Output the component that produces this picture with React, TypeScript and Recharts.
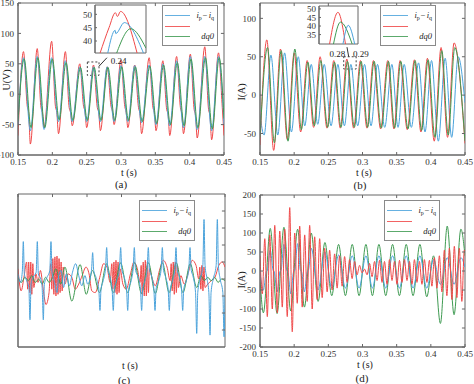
import React from 'react';
import { LineChart, Line, XAxis, YAxis, Legend, ReferenceArea, ReferenceLine, ReferenceDot, CartesianGrid } from 'recharts';

type Pt = [number, number];

const SERIF = "'Liberation Serif','Times New Roman',Times,serif";
const BLUE = '#4ba3dc';
const RED = '#f04848';
const GREEN = '#3f9b52';
const AXIS = '#666';

const X_DOMAIN: [number, number] = [0.15, 0.45];
const X_TICKS = [0.15, 0.2, 0.25, 0.3, 0.35, 0.4, 0.45];
const A_Y_TICKS = [-100, -50, 0, 50, 100, 150];
const B_Y_TICKS = [-50, 0, 50, 100];
const C_Y_TICKS = [-3, -2, -1, 0, 1, 2, 3, 4];
const D_Y_TICKS = [-200, -150, -100, -50, 0, 50, 100, 150, 200];
const LEGEND_COLORS = [BLUE, RED, GREEN];

// ---------- panel (a) U(V)
const aRed: Pt[] = [
  [0.150, -68], [0.158, 70], [0.1635, -20], [0.1655, -30], [0.168, -82], [0.178, 75], [0.1835, -22], [0.1855, -30],
  [0.188, -55], [0.199, 87], [0.2045, -20], [0.2065, -30], [0.209, -65], [0.219, 70], [0.2245, -22], [0.2265, -30],
  [0.229, -52], [0.240, 50], [0.2455, -20], [0.2475, -28], [0.250, -55], [0.260, 48], [0.2655, -22], [0.2675, -30],
  [0.270, -60], [0.280, 45], [0.2855, -20], [0.2875, -28], [0.290, -50], [0.300, 56], [0.3055, -20], [0.3075, -30],
  [0.310, -55], [0.320, 48], [0.3255, -22], [0.3275, -32], [0.330, -65], [0.341, 60], [0.3465, -22], [0.3485, -30],
  [0.351, -60], [0.361, 55], [0.3665, -25], [0.3685, -33], [0.371, -68], [0.381, 62], [0.3865, -22], [0.3885, -32],
  [0.391, -65], [0.401, 66], [0.4065, -25], [0.4085, -35], [0.411, -72], [0.422, 78], [0.4275, -25], [0.4295, -35],
  [0.432, -75], [0.442, 68], [0.4475, -22], [0.450, -68],
];
const aBlue: Pt[] = [
  [0.150, -50], [0.158, 60], [0.168, -60], [0.178, 62], [0.188, -58], [0.199, 60], [0.209, -45], [0.219, 55],
  [0.229, -45], [0.240, 45], [0.250, -45], [0.260, 45], [0.270, -45], [0.280, 45], [0.290, -45], [0.300, 47],
  [0.310, -45], [0.320, 47], [0.330, -47], [0.341, 48], [0.351, -50], [0.361, 50], [0.371, -52], [0.381, 55],
  [0.391, -55], [0.401, 62], [0.411, -58], [0.422, 62], [0.432, -60], [0.442, 62], [0.450, -50],
];
const aGreen: Pt[] = [
  [0.150, -45], [0.159, 58], [0.169, -55], [0.179, 60], [0.189, -55], [0.200, 58], [0.210, -42], [0.220, 52],
  [0.230, -43], [0.241, 44], [0.251, -43], [0.261, 44], [0.271, -43], [0.281, 44], [0.291, -43], [0.301, 45],
  [0.311, -43], [0.321, 45], [0.331, -45], [0.342, 46], [0.352, -48], [0.362, 48], [0.372, -50], [0.382, 52],
  [0.392, -52], [0.402, 58], [0.412, -55], [0.423, 60], [0.433, -57], [0.443, 60], [0.450, -40],
];
// inset (a)
const iaRed: Pt[] = [[0.2384, 35.5], [0.2391, 45], [0.2396, 50.6], [0.23976, 49.2], [0.2400, 51.1], [0.2413, 35.5]];
const iaBlue: Pt[] = [[0.2390, 35.5], [0.23958, 44], [0.23963, 42.8], [0.2403, 46.9], [0.2418, 35.5]];
const iaGreen: Pt[] = [[0.2397, 35.5], [0.2408, 44.6], [0.2420, 37.3]];

// ---------- panel (b) I(A)
const bRed: Pt[] = [
  [0.150, -65], [0.160, 72], [0.170, -72], [0.180, 60], [0.190, -58], [0.200, 55], [0.2095, -48], [0.219, 45],
  [0.2285, -42], [0.238, 50], [0.248, -43], [0.258, 45], [0.2675, -43], [0.277, 47], [0.287, -43], [0.297, 45],
  [0.3065, -43], [0.316, 45], [0.3265, -44], [0.337, 45], [0.346, -44], [0.355, 45], [0.3655, -45], [0.376, 46],
  [0.3855, -48], [0.395, 48], [0.405, -60], [0.415, 62], [0.4245, -55], [0.434, 68], [0.450, -63],
];
const bGreen: Pt[] = [
  [0.150, -55], [0.161, 62], [0.171, -62], [0.181, 58], [0.191, -60], [0.201, 60], [0.2105, -45], [0.220, 43],
  [0.2295, -40], [0.239, 45], [0.249, -42], [0.259, 43], [0.2685, -42], [0.278, 44], [0.288, -42], [0.298, 44],
  [0.3075, -42], [0.317, 44], [0.3275, -43], [0.338, 44], [0.347, -43], [0.356, 44], [0.3665, -44], [0.377, 45],
  [0.3865, -46], [0.396, 46], [0.406, -55], [0.416, 58], [0.4255, -52], [0.435, 62], [0.450, -60],
];
const bBlue: Pt[] = [
  [0.150, -25], [0.156, -52], [0.166, 52], [0.176, -52], [0.186, 55], [0.196, -48], [0.206, 50], [0.2155, -40],
  [0.225, 40], [0.2345, -38], [0.244, 40], [0.254, -40], [0.264, 40], [0.2735, -40], [0.283, 40], [0.293, -40],
  [0.303, 40], [0.3125, -40], [0.322, 40], [0.3325, -42], [0.343, 40], [0.352, -42], [0.361, 40], [0.3715, -42],
  [0.382, 42], [0.3915, -48], [0.401, 45], [0.411, -60], [0.421, 48], [0.4305, -55], [0.440, 50], [0.450, -10],
];
// inset (b)
const ibRed: Pt[] = [[0.2818, 29.5], [0.2848, 48], [0.2875, 29.5]];
const ibGreen: Pt[] = [[0.2832, 29.5], [0.2857, 42.3], [0.2899, 29.5]];
const ibBlue: Pt[] = [[0.2866, 29.5], [0.2885, 40.4], [0.2908, 29.5]];

// ---------- panel (c)
const cRed: Pt[] = [
  [0.150, 0.6], [0.1545, -0.7], [0.159, 0.2], [0.1625, 1.0], [0.164, -0.6], [0.1655, 1.0], [0.167, -0.8], [0.1685, 1.0],
  [0.170, -0.9], [0.1715, 0.9], [0.173, -0.5], [0.176, 0.3], [0.179, -0.2], [0.1825, 0.5], [0.1865, -0.6], [0.1905, -1.5],
  [0.195, -0.8], [0.1975, 0.9], [0.199, -0.6], [0.2005, 1.2], [0.202, -0.9], [0.2035, 1.3], [0.205, -1.0], [0.2065, 1.35],
  [0.208, -0.9], [0.2095, 1.2], [0.211, -0.8], [0.2125, 1.0], [0.214, -0.7], [0.2155, 0.7], [0.218, -0.3], [0.2225, 0.3],
  [0.228, 0.1], [0.233, -0.6], [0.238, -0.3], [0.243, 0.2], [0.2485, 0.7], [0.253, 0.3], [0.257, -0.7], [0.262, -0.8],
  [0.2685, 0.1], [0.274, 0.9], [0.279, 0.7], [0.2835, -0.2], [0.286, 0.9], [0.2875, -0.6], [0.289, 1.0], [0.2905, -0.8],
  [0.292, 1.1], [0.2935, -0.9], [0.295, 1.0], [0.2965, -0.8], [0.298, 0.6], [0.302, -0.3], [0.307, -0.6], [0.313, 0.3],
  [0.318, 1.0], [0.323, 0.6], [0.327, -0.2], [0.3285, 0.8], [0.330, -0.9], [0.3315, 1.0], [0.333, -1.0], [0.3345, 1.1],
  [0.336, -1.0], [0.3375, 1.0], [0.339, -0.8], [0.3405, 0.6], [0.344, 0.1], [0.349, -0.4], [0.355, 0.5], [0.3605, 1.1],
  [0.366, 0.7], [0.3705, -0.1], [0.372, 0.9], [0.3735, -0.7], [0.375, 1.0], [0.3765, -0.9], [0.378, 1.0], [0.3795, -0.8],
  [0.381, 0.8], [0.3825, -0.5], [0.386, 0.2], [0.391, -0.3], [0.397, 0.4], [0.4025, 1.1], [0.408, 0.8], [0.412, 0.0],
  [0.4135, 0.7], [0.415, -0.6], [0.4165, 0.8], [0.418, -0.7], [0.4195, 0.7], [0.421, -0.5], [0.425, -0.3], [0.430, -0.1],
  [0.4355, 0.1], [0.441, 0.8], [0.446, 1.0], [0.450, 0.7],
];
const cGreen: Pt[] = [
  [0.150, 0.1], [0.155, -0.2], [0.160, 0.1], [0.165, -0.1], [0.170, 0.2], [0.175, -0.2], [0.180, 0.0], [0.185, -0.3],
  [0.190, 0.1], [0.195, -0.2], [0.200, 0.1], [0.205, 0.6], [0.212, -0.3], [0.218, 0.7], [0.228, -1.3], [0.240, 0.85],
  [0.249, -0.9], [0.258, 0.5], [0.268, -0.8], [0.2785, 0.9], [0.288, -0.8], [0.2987, 0.95], [0.309, -0.8], [0.3189, 0.95],
  [0.329, -0.85], [0.3391, 0.95], [0.349, -0.85], [0.3593, 0.95], [0.369, -0.8], [0.3795, 0.95], [0.389, -0.8], [0.3997, 0.9],
  [0.409, -0.5], [0.415, 0.2], [0.420, -0.1], [0.425, 0.1], [0.430, -0.1], [0.435, 0.1], [0.440, -0.2], [0.445, 0.0],
  [0.450, -0.1],
];
const cBlue: Pt[] = [
  [0.150, 0.3], [0.1535, -0.2], [0.1562, 0.4], [0.1577, 2.2], [0.1592, 0.3], [0.1625, -0.1], [0.1657, -0.5], [0.1674, -2.4],
  [0.1689, -0.3], [0.172, 0.1], [0.1763, 0.4], [0.178, 2.2], [0.1795, 0.3], [0.183, 0.0], [0.185, -0.5], [0.1867, -2.4],
  [0.1882, -0.3], [0.192, 0.1], [0.1961, 0.5], [0.1978, 2.2], [0.1993, 0.4], [0.203, -0.2], [0.2065, -0.8], [0.209, 0.2],
  [0.2125, 0.5], [0.216, -0.5], [0.220, 0.3], [0.2245, -0.4], [0.229, 0.4], [0.2335, 0.9], [0.238, 0.2], [0.2425, -0.4],
  [0.247, 0.2], [0.251, -0.3],
  [0.2565, 0.5], [0.2582, 1.55], [0.2597, 0.5], [0.263, 0.1], [0.2671, -0.6], [0.2688, -1.85], [0.2703, -0.6], [0.2735, -0.1],
  [0.2768, 0.6], [0.2785, 1.85], [0.2800, 0.6], [0.2835, 0.1], [0.2864, -0.6], [0.2881, -1.85], [0.2896, -0.6], [0.2930, -0.1],
  [0.2971, 0.6], [0.2988, 1.85], [0.3003, 0.6], [0.3040, 0.1], [0.3073, -0.6], [0.3090, -1.85], [0.3105, -0.6], [0.3140, -0.1],
  [0.3169, 0.6], [0.3186, 1.85], [0.3201, 0.6], [0.3240, 0.1], [0.3275, -0.6], [0.3292, -1.85], [0.3307, -0.6], [0.3340, -0.1],
  [0.3372, 0.6], [0.3389, 1.85], [0.3404, 0.6], [0.3440, 0.1], [0.3469, -0.6], [0.3486, -1.85], [0.3501, -0.6], [0.3540, -0.1],
  [0.3575, 0.6], [0.3592, 1.85], [0.3607, 0.6], [0.3640, 0.1], [0.3676, -0.6], [0.3693, -1.85], [0.3708, -0.6], [0.3740, -0.1],
  [0.3773, 0.6], [0.3790, 1.85], [0.3805, 0.6], [0.3840, 0.1], [0.3870, -0.6], [0.3887, -1.85], [0.3902, -0.6], [0.3940, -0.1],
  [0.3976, 0.6], [0.3993, 1.85], [0.4008, 0.6], [0.4040, 0.1], [0.4073, -0.8], [0.4090, -3.2], [0.4105, -0.8], [0.4140, 0.0],
  [0.4179, 0.8], [0.4196, 3.5], [0.4211, 0.8], [0.4240, 0.0], [0.4266, -0.8], [0.4283, -3.3], [0.4298, -0.8], [0.4330, 0.0],
  [0.4372, 0.8], [0.4389, 3.5], [0.4404, 0.8], [0.4430, 0.0], [0.4469, -0.8], [0.4486, -3.4], [0.4500, -1.0],
];

// ---------- panel (d) I(A)
const dGreen: Pt[] = [
  [0.150, -20], [0.155, -110], [0.165, 112], [0.175, -112], [0.185, 115], [0.195, -105], [0.205, 110], [0.215, -95],
  [0.225, 100], [0.235, -80], [0.245, 75], [0.255, -65], [0.265, 70], [0.275, -65], [0.285, 70], [0.295, -65],
  [0.305, 70], [0.3145, -65], [0.324, 70], [0.334, -65], [0.344, 70], [0.354, -65], [0.364, 70], [0.374, -65],
  [0.384, 70], [0.394, -68], [0.404, 40], [0.414, -138], [0.424, 118], [0.434, -115], [0.444, 110], [0.450, 40],
];
const dBlue: Pt[] = [
  [0.150, -5], [0.155, -50], [0.159, -3], [0.161, 3], [0.165, 55], [0.169, 3], [0.171, -3], [0.175, -55],
  [0.179, -3], [0.181, 3], [0.185, 70], [0.189, 3], [0.191, -3], [0.195, -60], [0.199, -3], [0.201, 3],
  [0.205, 72], [0.209, 3], [0.211, -3], [0.215, -55], [0.219, -3], [0.221, 3], [0.225, 60], [0.235, -50],
  [0.245, 50], [0.255, -45], [0.265, 42], [0.275, -45], [0.285, 40], [0.295, -45], [0.305, 40], [0.3145, -45],
  [0.324, 40], [0.334, -45], [0.344, 40], [0.354, -45], [0.364, 40], [0.374, -45], [0.384, 40], [0.394, -45],
  [0.404, 30], [0.414, -35], [0.424, 35], [0.434, -35], [0.444, 35], [0.450, 10],
];
const dRed: Pt[] = [
  [0.150, 40], [0.1534, -60], [0.1570, 85], [0.1607, -120], [0.1643, 95], [0.1680, -100], [0.1716, 120], [0.1753, -110],
  [0.1789, 105], [0.1826, -95], [0.1862, 110], [0.1899, -120], [0.1935, 167], [0.1972, -160], [0.2008, 100], [0.2045, -85],
  [0.2081, 118], [0.2118, -95], [0.2154, 95], [0.2191, -80], [0.2227, 120], [0.2264, -100], [0.2300, 90], [0.2337, -75],
  [0.2373, 85], [0.2410, -70], [0.2446, 60], [0.2483, -55], [0.2519, 55], [0.2556, -50], [0.2592, 45], [0.2629, -45],
  [0.2665, 40], [0.2702, -40], [0.2738, 38], [0.2775, -30], [0.2811, 30], [0.2848, -20], [0.2884, 25], [0.2921, -10],
  [0.2957, 15], [0.2994, -5], [0.3030, 5], [0.3067, -10], [0.3103, 20], [0.3140, -15], [0.3176, 25], [0.3213, -25],
  [0.3249, 28], [0.3286, -30], [0.3322, 25], [0.3359, -35], [0.3395, 30], [0.3432, -25], [0.3468, 25], [0.3505, -35],
  [0.3541, 28], [0.3578, -30], [0.3614, 30], [0.3651, -25], [0.3687, 25], [0.3724, -35], [0.3760, 30], [0.3797, -30],
  [0.3833, 25], [0.3870, -35], [0.3906, 30], [0.3943, -30], [0.3979, 28], [0.4016, -40], [0.4052, 35], [0.4089, -45],
  [0.4125, 40], [0.4162, -55], [0.4198, 55], [0.4235, -65], [0.4271, 60], [0.4308, -75], [0.4344, 65], [0.4381, -70],
  [0.4417, 60], [0.4454, -80], [0.4490, 55], [0.450, 50],
];

const rows = (pts: Pt[]) => pts.map(([t, v]) => ({ t, v }));
const fmtT = (v: number) => `${+Number(v).toFixed(2)}`;
const TICK = { fontSize: 9, fill: '#333', fontFamily: SERIF };

type S = { pts: Pt[]; color: string };

const IpIq = () => (
  <span>
    <i>i</i><sub style={{ fontSize: 6, verticalAlign: '-2px' }}>p</sub>
    <span style={{ margin: '0 1px' }}>−</span>
    <i>i</i><sub style={{ fontSize: 6, verticalAlign: '-2px' }}>q</sub>
  </span>
);

const LegendBox = () => (
  <div style={{ width: 56, height: 41, boxSizing: 'border-box', border: '1px solid #8a8a8a', background: '#fff', position: 'relative', fontFamily: SERIF, fontSize: 8.5, color: '#222' }}>
    {LEGEND_COLORS.map((c, i) => (
      <div key={i} style={{ position: 'absolute', left: 0, right: 0, top: 4 + i * 10.5, height: 10 }}>
        <div style={{ position: 'absolute', left: 2, top: 5, width: 25, height: 1.3, background: c, opacity: 0.85 }} />
        <span style={{ position: 'absolute', right: 3, top: 0, lineHeight: '10px', whiteSpace: 'nowrap' }}>
          {i === 0 ? <IpIq /> : i === 2 ? <i>dq0</i> : null}
        </span>
      </div>
    ))}
  </div>
);

function MainPanel(props: {
  left: number; top: number; yWidth: number; mTop: number; mRight: number;
  yDomain: [number, number]; yTicks: number[]; labels: boolean; series: S[];
  legend: [number, number]; extras?: React.ReactNode;
}) {
  const { left, top, yWidth, mTop, mRight, yDomain, yTicks, labels, series, legend, extras } = props;
  return (
    <div style={{ position: 'absolute', left, top }}>
      <LineChart width={237} height={192} margin={{ top: mTop, right: mRight, bottom: 0, left: 0 }}>
        <XAxis xAxisId="b" dataKey="t" type="number" domain={X_DOMAIN} ticks={X_TICKS} allowDataOverflow height={37}
          tickSize={-3} tickMargin={7} tick={labels ? TICK : false} tickFormatter={fmtT} stroke={AXIS} interval={0} />
        <YAxis yAxisId="l" type="number" domain={yDomain} ticks={yTicks} allowDataOverflow width={yWidth}
          tickSize={-3} tickMargin={7} tick={labels ? TICK : false} stroke={AXIS} interval={0} />
        <ReferenceArea xAxisId="b" yAxisId="l" x1={X_DOMAIN[0]} x2={X_DOMAIN[1]} y1={yDomain[0]} y2={yDomain[1]}
          fill="none" stroke={AXIS} strokeWidth={1} ifOverflow="visible" />
        {series.map((s, i) => (
          <Line key={i} xAxisId="b" yAxisId="l" data={rows(s.pts)} dataKey="v" type="monotone" stroke={s.color}
            strokeWidth={1} dot={false} isAnimationActive={false} />
        ))}
        {X_TICKS.map((t) => (
          <ReferenceLine key={`tx${t}`} xAxisId="b" yAxisId="l" segment={[{ x: t, y: yDomain[1] }, { x: t, y: yDomain[1] - (yDomain[1] - yDomain[0]) * 0.02 }]} stroke={AXIS} ifOverflow="visible" />
        ))}
        {yTicks.map((v) => (
          <ReferenceLine key={`ty${v}`} xAxisId="b" yAxisId="l" segment={[{ x: X_DOMAIN[1], y: v }, { x: X_DOMAIN[1] - 0.0045, y: v }]} stroke={AXIS} ifOverflow="visible" />
        ))}
        {extras}
        <Legend layout="vertical" align="center" verticalAlign="middle" content={() => <LegendBox />}
          wrapperStyle={{ left: legend[0], top: legend[1], width: 56, height: 41 }} />
      </LineChart>
    </div>
  );
}

function Inset(props: {
  left: number; top: number; width: number; height: number; yWidth: number;
  xDomain: [number, number]; yDomain: [number, number]; yTicks: number[]; series: S[];
}) {
  const { left, top, width, height, yWidth, xDomain, yDomain, yTicks, series } = props;
  return (
    <div style={{ position: 'absolute', left, top }}>
      <LineChart width={width} height={height} margin={{ top: 3, right: 2, bottom: 3, left: 0 }}>
        <CartesianGrid xAxisId="x" yAxisId="y" fill="#fff" horizontal={false} vertical={false} />
        <XAxis xAxisId="x" hide dataKey="t" type="number" domain={xDomain} allowDataOverflow />
        <YAxis yAxisId="y" type="number" domain={yDomain} ticks={yTicks} allowDataOverflow width={yWidth}
          tickSize={-2} tickMargin={5} tick={TICK} stroke={AXIS} interval={0} />
        {series.map((s, i) => (
          <Line key={i} xAxisId="x" yAxisId="y" data={rows(s.pts)} dataKey="v" type="monotone" stroke={s.color}
            strokeWidth={1} dot={false} isAnimationActive={false} />
        ))}
        <ReferenceArea xAxisId="x" yAxisId="y" x1={xDomain[0]} x2={xDomain[1]} y1={yDomain[0]} y2={yDomain[1]}
          fill="none" stroke={AXIS} strokeWidth={1} ifOverflow="visible" />
      </LineChart>
    </div>
  );
}

const Txt = (p: { x: number; y: number; size?: number; rot?: boolean; children: React.ReactNode }) => (
  <div style={{
    position: 'absolute', left: p.x, top: p.y, transform: `translate(-50%,-50%)${p.rot ? ' rotate(-90deg)' : ''}`,
    fontFamily: SERIF, fontSize: p.size ?? 10, color: '#222', whiteSpace: 'nowrap', lineHeight: 1,
  }}>{p.children}</div>
);

const refLbl = (value: string) => ({ value, position: 'center' as const, fontSize: 9, fill: '#222', fontFamily: SERIF });

export default function App() {
  return (
    <div style={{ position: 'absolute', left: 0, top: 0, width: 474, height: 384, background: '#fff', overflow: 'hidden', fontFamily: SERIF }}>
      <MainPanel left={0} top={0} yWidth={18} mTop={3} mRight={13} yDomain={[-100, 150]} yTicks={A_Y_TICKS} labels
        series={[{ pts: aRed, color: RED }, { pts: aBlue, color: BLUE }, { pts: aGreen, color: GREEN }]}
        legend={[162, 5]}
        extras={[
          <ReferenceArea key="ra" xAxisId="b" yAxisId="l" x1={0.251} x2={0.268} y1={31} y2={53} fill="none" stroke="#444" strokeDasharray="2 2" />,
          <ReferenceLine key="rl" xAxisId="b" yAxisId="l" segment={[{ x: 0.268, y: 46 }, { x: 0.2795, y: 60 }]} stroke="#333" />,
          <ReferenceDot key="rd" xAxisId="b" yAxisId="l" x={0.2964} y={54.6} r={0.5} fill="none" stroke="none" label={refLbl('0.24')} />,
        ]} />
      <MainPanel left={237} top={0} yWidth={23} mTop={3} mRight={9} yDomain={[-78, 120]} yTicks={B_Y_TICKS} labels
        series={[{ pts: bBlue, color: BLUE }, { pts: bRed, color: RED }, { pts: bGreen, color: GREEN }]}
        legend={[143, 5]}
        extras={[
          <ReferenceArea key="ra" xAxisId="b" yAxisId="l" x1={0.2725} x2={0.2907} y1={34} y2={50} fill="none" stroke="#444" strokeDasharray="2 2" />,
          <ReferenceLine key="rl" xAxisId="b" yAxisId="l" segment={[{ x: 0.2798, y: 50 }, { x: 0.2773, y: 62.5 }]} stroke="#333" />,
          <ReferenceDot key="d1" xAxisId="b" yAxisId="l" x={0.2634} y={54} r={0.5} fill="none" stroke="none" label={refLbl('0.28')} />,
          <ReferenceDot key="d2" xAxisId="b" yAxisId="l" x={0.2978} y={54} r={0.5} fill="none" stroke="none" label={refLbl('0.29')} />,
        ]} />
      <MainPanel left={0} top={192} yWidth={18} mTop={2} mRight={12} yDomain={[-4, 5]} yTicks={C_Y_TICKS} labels={false}
        series={[{ pts: cRed, color: RED }, { pts: cGreen, color: GREEN }, { pts: cBlue, color: BLUE }]}
        legend={[139, 8]} />
      <MainPanel left={237} top={192} yWidth={23} mTop={3} mRight={9} yDomain={[-200, 200]} yTicks={D_Y_TICKS} labels
        series={[{ pts: dGreen, color: GREEN }, { pts: dBlue, color: BLUE }, { pts: dRed, color: RED }]}
        legend={[147, 8]} />

      <Inset left={80} top={2} width={68} height={54} yWidth={15} xDomain={[0.238, 0.242]} yDomain={[35.5, 53.5]} yTicks={[40, 45, 50]}
        series={[{ pts: iaRed, color: RED }, { pts: iaBlue, color: BLUE }, { pts: iaGreen, color: GREEN }]} />
      <Inset left={300} top={3} width={60} height={44} yWidth={19} xDomain={[0.278, 0.292]} yDomain={[29.5, 51.7]} yTicks={[35, 40, 45, 50]}
        series={[{ pts: ibRed, color: RED }, { pts: ibGreen, color: GREEN }, { pts: ibBlue, color: BLUE }]} />

      <Txt x={7} y={80} rot>U(V)</Txt>
      <Txt x={242} y={92} rot>I(A)</Txt>
      <Txt x={242} y={280} rot>I(A)</Txt>
      <Txt x={129} y={173}>t (s)</Txt>
      <Txt x={121} y={184} size={11}>(a)</Txt>
      <Txt x={364} y={173}>t (s)</Txt>
      <Txt x={360} y={185} size={11}>(b)</Txt>
      <Txt x={130} y={366}>t (s)</Txt>
      <Txt x={124} y={380} size={11}>(c)</Txt>
      <Txt x={365} y={365}>t (s)</Txt>
      <Txt x={362} y={378} size={11}>(d)</Txt>
    </div>
  );
}
